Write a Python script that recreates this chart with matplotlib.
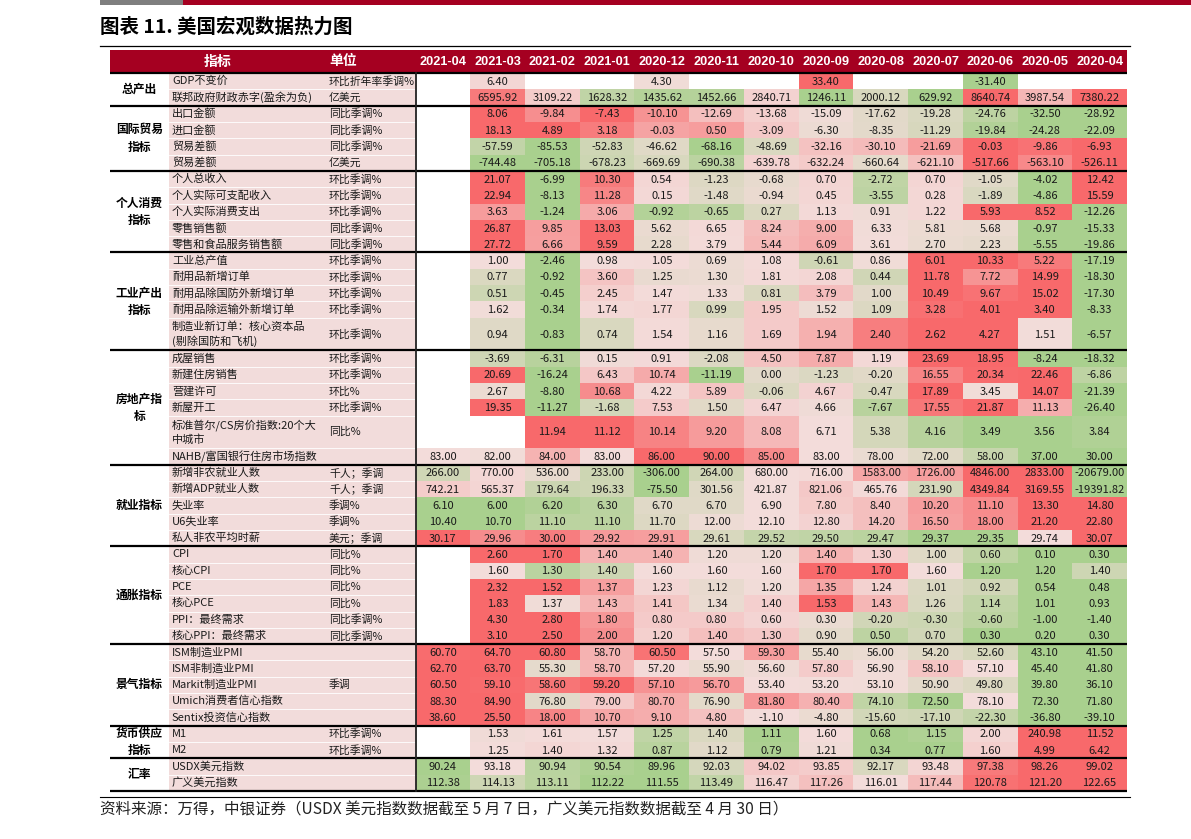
import numpy as np
import matplotlib
matplotlib.use('Agg')
import matplotlib.pyplot as plt
from matplotlib.patches import Rectangle

plt.rcParams['font.family'] = ['Noto Sans CJK SC', 'DejaVu Sans']

# ---------------- data ----------------
dates = ['2021-04', '2021-03', '2021-02', '2021-01', '2020-12', '2020-11', '2020-10',
         '2020-09', '2020-08', '2020-07', '2020-06', '2020-05', '2020-04']

group_names = ['总产出', '国际贸易\n指标', '个人消费\n指标', '工业产出\n指标', '房地产指\n标',
               '就业指标', '通胀指标', '景气指标', '货币供应\n指标', '汇率']

N = None

output_names = ['GDP不变价', '联邦政府财政赤字(盈余为负)']
output_units = ['环比折年率季调%', '亿美元']
output_vals = [
    [N, 6.40, N, N, 4.30, N, N, 33.40, N, N, -31.40, N, N],
    [N, 6595.92, 3109.22, 1628.32, 1435.62, 1452.66, 2840.71, 1246.11, 2000.12, 629.92, 8640.74, 3987.54, 7380.22],
]

trade_names = ['出口金额', '进口金额', '贸易差额', '贸易差额']
trade_units = ['同比季调%', '同比季调%', '同比季调%', '亿美元']
trade_vals = [
    [N, 8.06, -9.84, -7.43, -10.10, -12.69, -13.68, -15.09, -17.62, -19.28, -24.76, -32.50, -28.92],
    [N, 18.13, 4.89, 3.18, -0.03, 0.50, -3.09, -6.30, -8.35, -11.29, -19.84, -24.28, -22.09],
    [N, -57.59, -85.53, -52.83, -46.62, -68.16, -48.69, -32.16, -30.10, -21.69, -0.03, -9.86, -6.93],
    [N, -744.48, -705.18, -678.23, -669.69, -690.38, -639.78, -632.24, -660.64, -621.10, -517.66, -563.10, -526.11],
]

consume_names = ['个人总收入', '个人实际可支配收入', '个人实际消费支出', '零售销售额', '零售和食品服务销售额']
consume_units = ['环比季调%', '环比季调%', '环比季调%', '同比季调%', '同比季调%']
consume_vals = [
    [N, 21.07, -6.99, 10.30, 0.54, -1.23, -0.68, 0.70, -2.72, 0.70, -1.05, -4.02, 12.42],
    [N, 22.94, -8.13, 11.28, 0.15, -1.48, -0.94, 0.45, -3.55, 0.28, -1.89, -4.86, 15.59],
    [N, 3.63, -1.24, 3.06, -0.92, -0.65, 0.27, 1.13, 0.91, 1.22, 5.93, 8.52, -12.26],
    [N, 26.87, 9.85, 13.03, 5.62, 6.65, 8.24, 9.00, 6.33, 5.81, 5.68, -0.97, -15.33],
    [N, 27.72, 6.66, 9.59, 2.28, 3.79, 5.44, 6.09, 3.61, 2.70, 2.23, -5.55, -19.86],
]

industry_names = ['工业总产值', '耐用品新增订单', '耐用品除国防外新增订单', '耐用品除运输外新增订单',
                  '制造业新订单：核心资本品\n(剔除国防和飞机)']
industry_units = ['环比季调%'] * 5
industry_vals = [
    [N, 1.00, -2.46, 0.98, 1.05, 0.69, 1.08, -0.61, 0.86, 6.01, 10.33, 5.22, -17.19],
    [N, 0.77, -0.92, 3.60, 1.25, 1.30, 1.81, 2.08, 0.44, 11.78, 7.72, 14.99, -18.30],
    [N, 0.51, -0.45, 2.45, 1.47, 1.33, 0.81, 3.79, 1.00, 10.49, 9.67, 15.02, -17.30],
    [N, 1.62, -0.34, 1.74, 1.77, 0.99, 1.95, 1.52, 1.09, 3.28, 4.01, 3.40, -8.33],
    [N, 0.94, -0.83, 0.74, 1.54, 1.16, 1.69, 1.94, 2.40, 2.62, 4.27, 1.51, -6.57],
]

housing_names = ['成屋销售', '新建住房销售', '营建许可', '新屋开工',
                 '标准普尔/CS房价指数:20个大\n中城市', 'NAHB/富国银行住房市场指数']
housing_units = ['环比季调%', '环比季调%', '环比%', '环比季调%', '同比%', '']
housing_vals = [
    [N, -3.69, -6.31, 0.15, 0.91, -2.08, 4.50, 7.87, 1.19, 23.69, 18.95, -8.24, -18.32],
    [N, 20.69, -16.24, 6.43, 10.74, -11.19, 0.00, -1.23, -0.20, 16.55, 20.34, 22.46, -6.86],
    [N, 2.67, -8.80, 10.68, 4.22, 5.89, -0.06, 4.67, -0.47, 17.89, 3.45, 14.07, -21.39],
    [N, 19.35, -11.27, -1.68, 7.53, 1.50, 6.47, 4.66, -7.67, 17.55, 21.87, 11.13, -26.40],
    [N, N, 11.94, 11.12, 10.14, 9.20, 8.08, 6.71, 5.38, 4.16, 3.49, 3.56, 3.84],
    [83.00, 82.00, 84.00, 83.00, 86.00, 90.00, 85.00, 83.00, 78.00, 72.00, 58.00, 37.00, 30.00],
]

jobs_names = ['新增非农就业人数', '新增ADP就业人数', '失业率', 'U6失业率', '私人非农平均时薪']
jobs_units = ['千人；季调', '千人；季调', '季调%', '季调%', '美元；季调']
jobs_vals = [
    [266.00, 770.00, 536.00, 233.00, -306.00, 264.00, 680.00, 716.00, 1583.00, 1726.00, 4846.00, 2833.00, -20679.00],
    [742.21, 565.37, 179.64, 196.33, -75.50, 301.56, 421.87, 821.06, 465.76, 231.90, 4349.84, 3169.55, -19391.82],
    [6.10, 6.00, 6.20, 6.30, 6.70, 6.70, 6.90, 7.80, 8.40, 10.20, 11.10, 13.30, 14.80],
    [10.40, 10.70, 11.10, 11.10, 11.70, 12.00, 12.10, 12.80, 14.20, 16.50, 18.00, 21.20, 22.80],
    [30.17, 29.96, 30.00, 29.92, 29.91, 29.61, 29.52, 29.50, 29.47, 29.37, 29.35, 29.74, 30.07],
]

infl_names = ['CPI', '核心CPI', 'PCE', '核心PCE', 'PPI：最终需求', '核心PPI：最终需求']
infl_units = ['同比%', '同比%', '同比%', '同比%', '同比季调%', '同比季调%']
infl_vals = [
    [N, 2.60, 1.70, 1.40, 1.40, 1.20, 1.20, 1.40, 1.30, 1.00, 0.60, 0.10, 0.30],
    [N, 1.60, 1.30, 1.40, 1.60, 1.60, 1.60, 1.70, 1.70, 1.60, 1.20, 1.20, 1.40],
    [N, 2.32, 1.52, 1.37, 1.23, 1.12, 1.20, 1.35, 1.24, 1.01, 0.92, 0.54, 0.48],
    [N, 1.83, 1.37, 1.43, 1.41, 1.34, 1.40, 1.53, 1.43, 1.26, 1.14, 1.01, 0.93],
    [N, 4.30, 2.80, 1.80, 0.80, 0.80, 0.60, 0.30, -0.20, -0.30, -0.60, -1.00, -1.40],
    [N, 3.10, 2.50, 2.00, 1.20, 1.40, 1.30, 0.90, 0.50, 0.70, 0.30, 0.20, 0.30],
]

sent_names = ['ISM制造业PMI', 'ISM非制造业PMI', 'Markit制造业PMI', 'Umich消费者信心指数', 'Sentix投资信心指数']
sent_units = ['', '', '季调', '', '']
sent_vals = [
    [60.70, 64.70, 60.80, 58.70, 60.50, 57.50, 59.30, 55.40, 56.00, 54.20, 52.60, 43.10, 41.50],
    [62.70, 63.70, 55.30, 58.70, 57.20, 55.90, 56.60, 57.80, 56.90, 58.10, 57.10, 45.40, 41.80],
    [60.50, 59.10, 58.60, 59.20, 57.10, 56.70, 53.40, 53.20, 53.10, 50.90, 49.80, 39.80, 36.10],
    [88.30, 84.90, 76.80, 79.00, 80.70, 76.90, 81.80, 80.40, 74.10, 72.50, 78.10, 72.30, 71.80],
    [38.60, 25.50, 18.00, 10.70, 9.10, 4.80, -1.10, -4.80, -15.60, -17.10, -22.30, -36.80, -39.10],
]

money_names = ['M1', 'M2']
money_units = ['环比季调%', '环比季调%']
money_vals = [
    [N, 1.53, 1.61, 1.57, 1.25, 1.40, 1.11, 1.60, 0.68, 1.15, 2.00, 240.98, 11.52],
    [N, 1.25, 1.40, 1.32, 0.87, 1.12, 0.79, 1.21, 0.34, 0.77, 1.60, 4.99, 6.42],
]

fx_names = ['USDX美元指数', '广义美元指数']
fx_units = ['', '']
fx_vals = [
    [90.24, 93.18, 90.94, 90.54, 89.96, 92.03, 94.02, 93.85, 92.17, 93.48, 97.38, 98.26, 99.02],
    [112.38, 114.13, 113.11, 112.22, 111.55, 113.49, 116.47, 117.26, 116.01, 117.44, 120.78, 121.20, 122.65],
]

groups = [
    (output_names, output_units, output_vals),
    (trade_names, trade_units, trade_vals),
    (consume_names, consume_units, consume_vals),
    (industry_names, industry_units, industry_vals),
    (housing_names, housing_units, housing_vals),
    (jobs_names, jobs_units, jobs_vals),
    (infl_names, infl_units, infl_vals),
    (sent_names, sent_units, sent_vals),
    (money_names, money_units, money_vals),
    (fx_names, fx_units, fx_vals),
]

title = '图表 11. 美国宏观数据热力图'
source = '资料来源：万得，中银证券（USDX 美元指数数据截至 5 月 7 日，广义美元指数数据截至 4 月 30 日）'

# ---------------- style / layout ----------------
RED_DARK = '#A50021'
C_LOW = np.array([0xA9, 0xD0, 0x8E]) / 255
C_MID = np.array([0xF3, 0xDC, 0xDA]) / 255
C_HIGH = np.array([0xF8, 0x69, 0x6B]) / 255
PINK = '#F2DCDB'


def row_colors(vals):
    v = np.array([x for x in vals if x is not None], dtype=float)
    lo, mid, hi = np.percentile(v, [10, 50, 90])
    out = []
    for x in vals:
        if x is None:
            out.append(None)
            continue
        if x <= mid:
            t = 0.0 if mid == lo else np.clip((mid - x) / (mid - lo), 0, 1)
            c = C_MID + t * (C_LOW - C_MID)
        else:
            t = 0.0 if hi == mid else np.clip((x - mid) / (hi - mid), 0, 1)
            c = C_MID + t * (C_HIGH - C_MID)
        out.append(c)
    return out


W, H = 1191, 839
fig = plt.figure(figsize=(W / 100, H / 100), dpi=100)
ax = fig.add_axes([0, 0, 1, 1])
ax.set_xlim(0, W)
ax.set_ylim(H, 0)
ax.axis('off')

TL, IND, UNIT, DATA, TR = 110, 169, 326, 415.5, 1127
HEAD_T, HEAD_B, BOT = 50, 73, 791
n_units = sum(sum(2 if '\n' in n else 1 for n in g[0]) for g in groups)
ROW_H = (BOT - HEAD_B) / n_units
CW = (TR - DATA) / len(dates)

# top bar and title
ax.add_patch(Rectangle((100, 0), 83, 5, fc='#7F7F7F', ec='none'))
ax.add_patch(Rectangle((183, 0), W - 183, 5, fc=RED_DARK, ec='none'))
ax.text(100, 27, title, fontsize=14, fontweight='bold', ha='left', va='center', color='black')
ax.plot([100, 1130], [46, 46], color='black', lw=0.9)

# header
ax.add_patch(Rectangle((TL, HEAD_T), TR - TL, HEAD_B - HEAD_T, fc=RED_DARK, ec='none'))
ax.text((TL + UNIT) / 2, (HEAD_T + HEAD_B) / 2, '指标', color='white', fontsize=10,
        fontweight='bold', ha='center', va='center')
ax.text(UNIT + 3, (HEAD_T + HEAD_B) / 2, '单位', color='white', fontsize=10,
        fontweight='bold', ha='left', va='center')
for j, d in enumerate(dates):
    ax.text(DATA + (j + 0.5) * CW, (HEAD_T + HEAD_B) / 2 + 0.5, d, color='white', fontsize=9.2,
            fontweight='bold', ha='center', va='center', family=['Liberation Sans', 'DejaVu Sans'])

# body
y = HEAD_B
group_bounds = [HEAD_B]
for gi, (names, units, vals) in enumerate(groups):
    gy0 = y
    for ri, (name, unit, row) in enumerate(zip(names, units, vals)):
        span = 2 if '\n' in name else 1
        h = span * ROW_H
        ax.add_patch(Rectangle((IND, y), DATA - IND, h, fc=PINK, ec='none'))
        if ri > 0:
            ax.plot([IND, DATA], [y, y], color='white', lw=0.6)
        ax.text(IND + 3, y + h / 2, name, fontsize=8, ha='left', va='center',
                color='#1a1a1a', linespacing=1.45)
        if unit:
            ax.text(UNIT + 3, y + h / 2, unit, fontsize=7.8, ha='left', va='center', color='#1a1a1a')
        cols = row_colors(row)
        for j, (v, c) in enumerate(zip(row, cols)):
            if v is None:
                continue
            ax.add_patch(Rectangle((DATA + j * CW, y), CW, h, fc=c, ec='none'))
            ax.text(DATA + (j + 0.5) * CW, y + h / 2 + 0.5, f'{v:.2f}', fontsize=8,
                    ha='center', va='center', color='#1a1a1a')
        y += h
    ax.text((TL + IND) / 2, (gy0 + y) / 2, group_names[gi], fontsize=8.5, fontweight='bold',
            ha='center', va='center', linespacing=1.45, color='black')
    group_bounds.append(y)

for yb in group_bounds:
    ax.plot([TL, TR], [yb, yb], color='black', lw=1.6, solid_capstyle='butt')
ax.plot([DATA, DATA], [HEAD_B, BOT], color='#222222', lw=1.3)
ax.plot([100, 1130], [796.5, 796.5], color='black', lw=0.8)

ax.text(100, 810, source, fontsize=11.2, ha='left', va='center', color='#222222')

fig.savefig('out.png', dpi=100)
